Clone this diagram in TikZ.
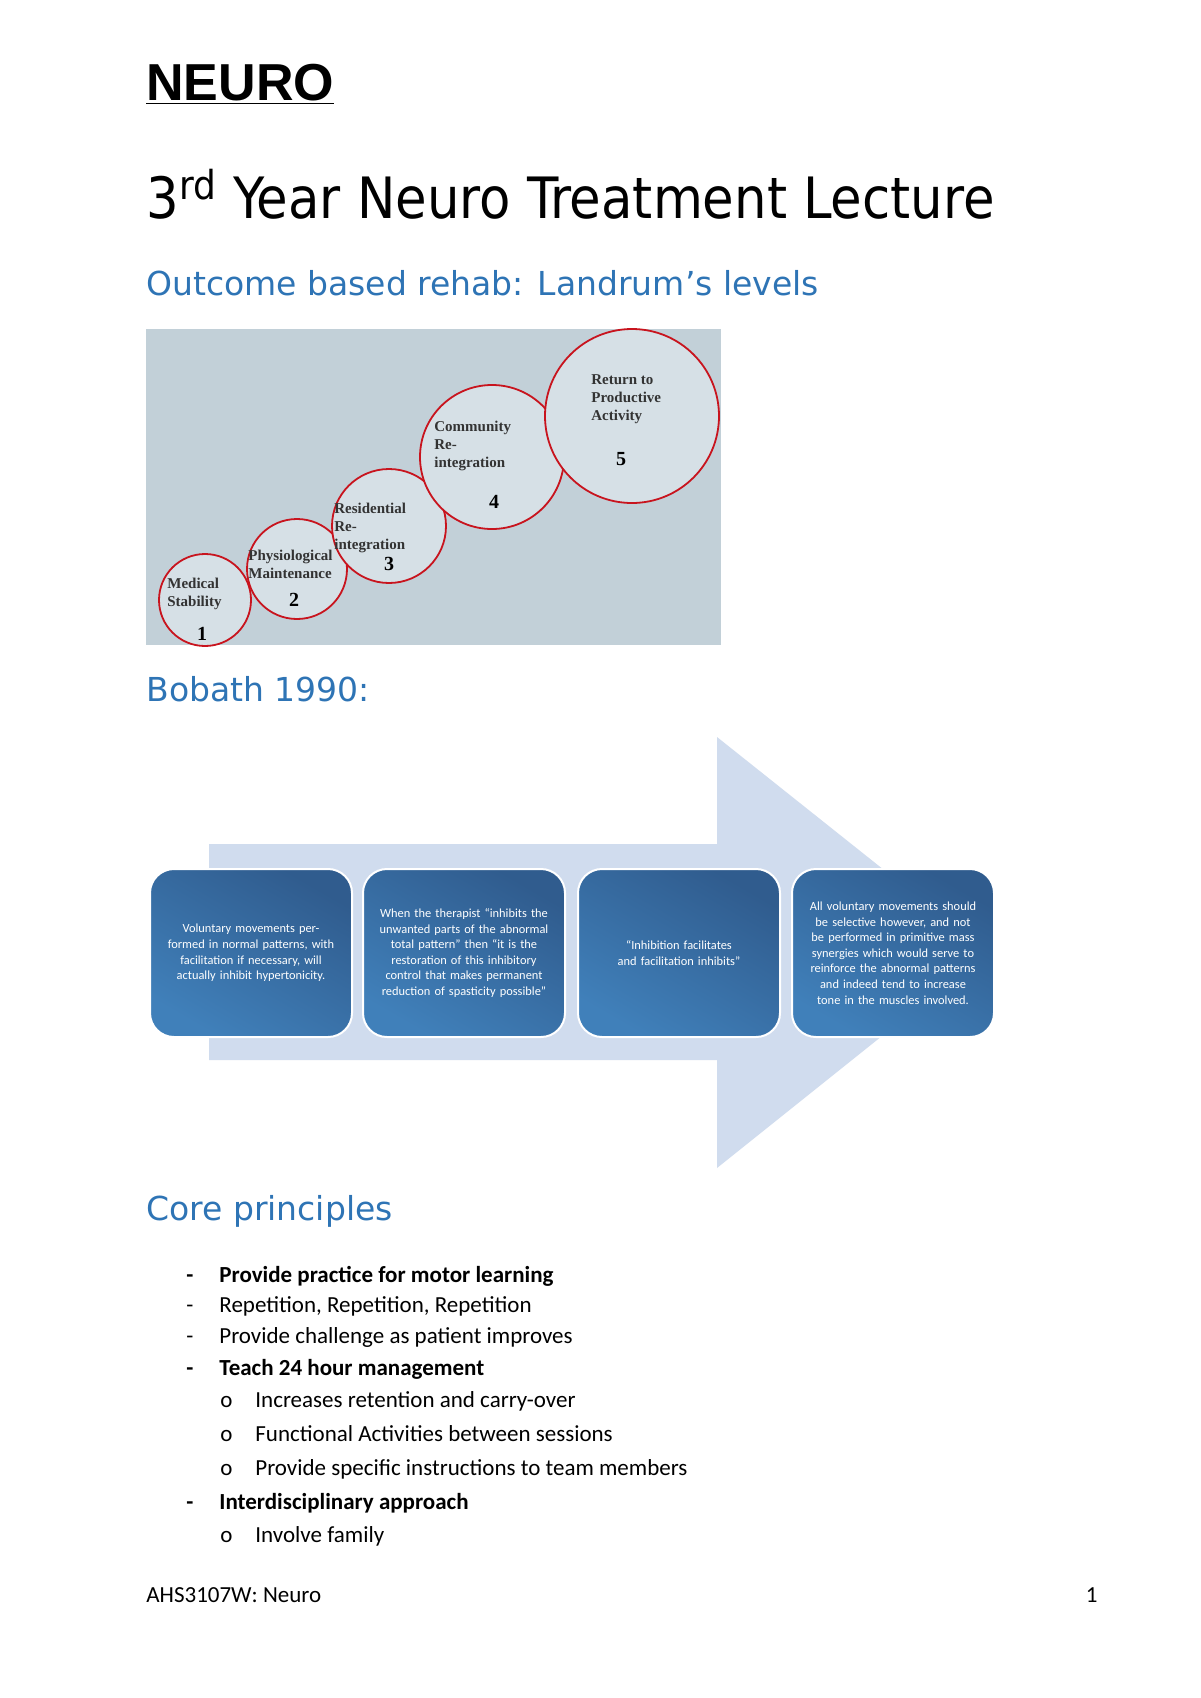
\documentclass[tikz,border=0pt]{standalone}
\usepackage{fontspec}
\setmainfont{Carlito}
\newfontfamily\dv{DejaVu Sans}
\newfontfamily\dvc{DejaVu Sans Condensed}
\newfontfamily\ls{Liberation Sans}
\newfontfamily\lsr{Liberation Serif}
\usetikzlibrary{positioning}
\definecolor{hblue}{RGB}{46,116,181}
\definecolor{imgbg}{RGB}{194,208,216}
\definecolor{circin}{RGB}{214,224,230}
\definecolor{cred}{RGB}{200,20,30}
\definecolor{arr}{RGB}{208,220,238}
\definecolor{bdark}{RGB}{48,92,142}
\definecolor{blight}{RGB}{64,128,186}
\begin{document}
\begin{tikzpicture}[x=0.5pt,y=-0.5pt,
  heading/.style={anchor=base west,inner sep=0,text=hblue,font=\dv\fontsize{16.5}{20}\selectfont},
  circ/.style={circle,draw=cred,line width=0.9pt,fill=circin,inner sep=0},
  ctext/.style={align=left,anchor=north west,inner sep=0,font=\lsr\bfseries\fontsize{7.5}{9}\selectfont,text=black!80},
  cnum/.style={inner sep=0,font=\lsr\bfseries\fontsize{10}{12}\selectfont},
  box/.style={rounded corners=12pt,draw=white,line width=1pt,top color=bdark,bottom color=blight,shading angle=-30,minimum width=101pt,minimum height=84pt,anchor=north west,text=white,align=center,font=\fontsize{6.2}{7.8}\selectfont,text width=90pt,inner sep=0},
  item/.style={anchor=base west,inner sep=0,font=\fontsize{11.5}{14}\selectfont},
  bul/.style={anchor=base west,inner sep=0,font=\fontsize{11.5}{14}\selectfont}]
\useasboundingbox (0,0) rectangle (1200,1698);
\fill[white] (0,0) rectangle (1200,1698);
\node[anchor=base west,inner sep=0,font=\ls\bfseries\fontsize{26}{30}\selectfont] (neuro) at (146,100) {\underline{NEURO}};
\node[anchor=base west,inner sep=0,font=\dvc\fontsize{28.5}{34}\selectfont] (title) at (146,218) {3\textsuperscript{rd} Year Neuro Treatment Lecture};
\node[heading] (h1) at (146,295) {Outcome based rehab: Landrum’s levels};
% image
\fill[imgbg] (146,329) rectangle (721,645);
\node[circ,minimum size=46pt] (c1) at (205,600) {};
\node[circ,minimum size=50pt] (c2) at (297,569) {};
\node[circ,minimum size=57pt] (c3) at (389,526) {};
\node[circ,minimum size=72pt] (c4) at (492,457) {};
\node[circ,minimum size=87pt] (c5) at (632,416) {};
\node[ctext] (t1) at (167,578) {Medical\\Stability};
\node[cnum] (n1) at (202,634) {1};
\node[ctext] (t2) at (248,550) {Physiological\\Maintenance};
\node[cnum] (n2) at (294,600) {2};
\node[ctext] (t3) at (334,503) {Residential\\Re-\\integration};
\node[cnum] (n3) at (389,564) {3};
\node[ctext] (t4) at (434,421) {Community\\Re-\\integration};
\node[cnum] (n4) at (494,502) {4};
\node[ctext] (t5) at (591,374) {Return to\\Productive\\Activity};
\node[cnum] (n5) at (621,459) {5};
\node[heading] (h2) at (146,701) {Bobath 1990:};
% arrow
\fill[arr] (209,844) -- (717,844) -- (717,737) -- (987,952) -- (717,1168) -- (717,1060) -- (209,1060) -- cycle;
\node[box] (b1) at (149,868) {Voluntary movements performed in normal patterns, with facilitation if necessary, will actually inhibit hypertonicity.};
\node[box] (b2) at (362,868) {When the therapist “inhibits the unwanted parts of the abnormal total pattern” then “it is the restoration of this inhibitory control that makes permanent reduction of spasticity possible”};
\node[box] (b3) at (577,868) {“Inhibition facilitates and facilitation inhibits”};
\node[box] (b4) at (791,868) {All voluntary movements should be selective however, and not be performed in primitive mass synergies which would serve to reinforce the abnormal patterns and indeed tend to increase tone in the muscles involved.};
\node[heading] (h3) at (146,1220) {Core principles};
% list
\node[bul] (d1) at (186,1282) {\textbf{-}};
\node[item] (i1) at (219,1282) {\textbf{Provide practice for motor learning}};
\node[bul] (d2) at (186,1312) {-};
\node[item] (i2) at (219,1312) {Repetition, Repetition, Repetition};
\node[bul] (d3) at (186,1343) {-};
\node[item] (i3) at (219,1343) {Provide challenge as patient improves};
\node[bul] (d4) at (186,1375) {\textbf{-}};
\node[item] (i4) at (219,1375) {\textbf{Teach 24 hour management}};
\node[bul] (o1) at (220,1407) {o};
\node[item] (s1) at (255,1407) {Increases retention and carry-over};
\node[bul] (o2) at (220,1441) {o};
\node[item] (s2) at (255,1441) {Functional Activities between sessions};
\node[bul] (o3) at (220,1475) {o};
\node[item] (s3) at (255,1475) {Provide specific instructions to team members};
\node[bul] (d5) at (186,1509) {\textbf{-}};
\node[item] (i5) at (219,1509) {\textbf{Interdisciplinary approach}};
\node[bul] (o4) at (220,1542) {o};
\node[item] (s4) at (255,1542) {Involve family};
\node[item] (foot) at (146,1602) {AHS3107W: Neuro};
\node[anchor=base east,inner sep=0,font=\fontsize{11.5}{14}\selectfont] (pg) at (1098,1602) {1};
\end{tikzpicture}
\end{document}
